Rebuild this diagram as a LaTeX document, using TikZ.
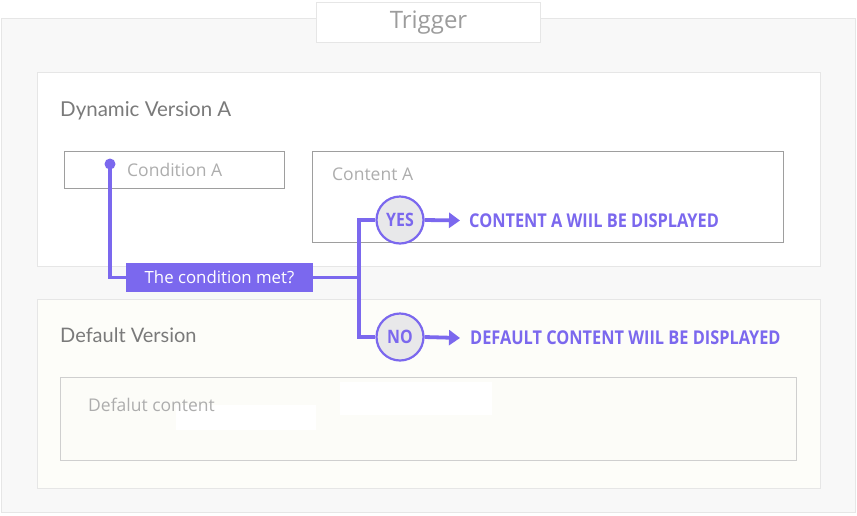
\documentclass[tikz,border=0pt]{standalone}
\usepackage{fontspec}
\setmainfont{Open Sans}
\newfontfamily\headfont{Lato}
\newfontfamily\condfont[FakeStretch=0.86]{Open Sans}
\usetikzlibrary{arrows.meta}
\definecolor{pur}{HTML}{7B68EE}
\definecolor{panelbg}{HTML}{F8F8F8}
\definecolor{panelln}{HTML}{E6E6E6}
\definecolor{ivory}{HTML}{FDFDF9}
\definecolor{ivory2}{HTML}{FCFCF8}
\definecolor{boxln}{HTML}{9E9E9E}
\definecolor{circbg}{HTML}{E8E8EA}
\definecolor{headtx}{HTML}{7A7A7A}
\definecolor{lighttx}{HTML}{ADADAD}
\tikzset{
  panel/.style={draw=panelln, line width=1pt},
  subbox/.style={draw=boxln, line width=0.9pt, fill=white},
  headlbl/.style={font=\headfont\fontsize{20.5}{24}\selectfont, text=headtx, anchor=base west, inner sep=0pt},
  lightlbl/.style={font=\fontsize{17.5}{21}\selectfont, text=lighttx, anchor=base west, inner sep=0pt},
  flow/.style={draw=pur, line width=3.4pt},
  choice/.style={circle, draw=pur, line width=2.2pt, fill=circbg, minimum size=47pt, inner sep=0pt, text=pur, font=\condfont\bfseries\fontsize{18.5}{20}\selectfont},
  result/.style={text=pur, anchor=west, inner sep=0pt, font=\condfont\bfseries\fontsize{19}{21}\selectfont},
  arr/.style={draw=pur, line width=3.8pt, -{Triangle[length=11pt,width=15pt]}}
}
\begin{document}
\begin{tikzpicture}[x=1pt,y=-1pt]
\useasboundingbox (0,0) rectangle (857,515);
\fill[white] (0,0) rectangle (857,515);
% outer panel
\draw[panel, fill=panelbg] (1.5,18.5) rectangle (855.5,512.5);
% trigger tab
\draw[panel, fill=white] (316.5,2.5) rectangle (540.5,42.5);
\node[font=\fontsize{24}{28}\selectfont, text=lighttx!90!black, inner sep=0pt] (trig) at (428.5,22.5) {Trigger};
% dynamic version panel
\draw[panel, fill=white] (37.5,72.5) rectangle (820.5,266.5);
\node[headlbl] (dyn) at (60,116) {Dynamic Version A};
% condition box
\draw[subbox] (64.5,151.5) rectangle (284.5,188.5);
\node[lightlbl] (condA) at (127,176) {Condition A};
% content box
\draw[subbox] (312.5,151.5) rectangle (783.5,242.5);
\node[lightlbl] (contA) at (332,180) {Content A};
% default version panel
\draw[panel, fill=ivory] (37.5,299.5) rectangle (820.5,488.5);
\node[headlbl, font=\headfont\fontsize{20}{24}\selectfont] (defv) at (60,342) {Default Version};
\draw[panel, draw=panelln!90!black, fill=ivory2] (60.5,377.5) rectangle (796.5,460.5);
\fill[white] (340,382) rectangle (492,415);
\fill[white] (176,405) rectangle (316,430);
\node[lightlbl] (defc) at (88,411) {Defalut content};
% flow
\coordinate (dot) at (110,164);
\node[fill=pur, text=white, minimum width=187pt, minimum height=29pt, inner sep=0pt, font=\fontsize{16.8}{20}\selectfont] (q) at (219.5,277.5) {The condition met?};
\node[choice] (yes) at (400,220) {YES};
\node[choice] (no) at (400,337) {NO};
\coordinate (split) at (359,277.5);
\draw[flow] (dot) |- (q.west);
\fill[pur] (dot) circle (5.5pt);
\draw[flow] (q.east) -- (split);
\draw[flow] (yes.west) -| (split) |- (no.west);
\node[result] (ra) at (469,220.5) {CONTENT A WIIL BE DISPLAYED};
\node[result] (rb) at (470,338) {DEFAULT CONTENT WIIL BE DISPLAYED};
\draw[arr] (yes.east) -- ([xshift=-9pt]ra.west);
\draw[arr] (no.east) -- ([xshift=-10pt]rb.west);
\end{tikzpicture}
\end{document}
